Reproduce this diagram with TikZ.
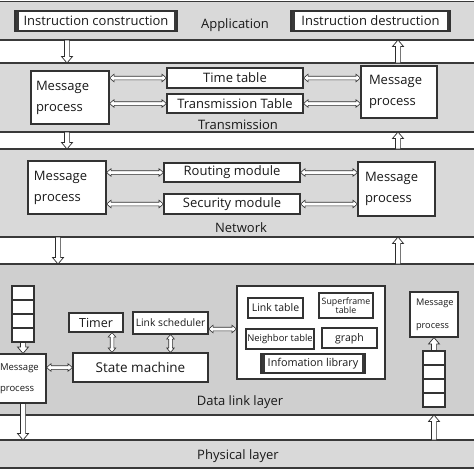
\documentclass[tikz,border=0pt]{standalone}
\usepackage{fontspec}
\setmainfont{Open Sans}
\usetikzlibrary{calc}
\begin{document}
\begin{tikzpicture}[x=1pt,y=-1pt,
  band/.style={fill=gray!30,draw=gray!45!black,line width=1.2pt},
  banddl/.style={fill=gray!38,draw=gray!45!black,line width=1.2pt},
  box/.style={draw=gray!40!black,fill=white,line width=1.1pt,inner sep=0pt,text=black!90,font=\fontsize{13}{15}\selectfont},
  mp/.style={box,align=left,font=\fontsize{13}{21}\selectfont},
  smallmp/.style={box,align=left,font=\fontsize{9.5}{21}\selectfont},
  sm/.style={font=\fontsize{10.5}{12}\selectfont},
  lbl/.style={text=black!90,font=\fontsize{13}{15}\selectfont},
  sidebars/.style={path picture={
    \fill[gray!45!black] (path picture bounding box.north west) rectangle ([xshift=3.5pt]path picture bounding box.south west);
    \fill[gray!45!black] (path picture bounding box.north east) rectangle ([xshift=-3.5pt]path picture bounding box.south east);}},
  barrow/.style n args={3}{to path={
    let \p1=(\tikztostart), \p2=(\tikztotarget), \p3=($(\p2)!#3!(\p1)$) in
    ($(\p1)!#1!90:(\p2)$) -- ($(\p3)!#1!90:(\p2)$) -- ($(\p3)!#2!90:(\p2)$) -- (\p2)
    -- ($(\p3)!#2!-90:(\p2)$) -- ($(\p3)!#1!-90:(\p2)$) -- ($(\p1)!#1!-90:(\p2)$) -- cycle}},
  darrow/.style n args={3}{to path={
    let \p1=(\tikztostart), \p2=(\tikztotarget), \p3=($(\p2)!#3!(\p1)$), \p4=($(\p1)!#3!(\p2)$) in
    (\p1) -- ($(\p4)!#2!90:(\p2)$) -- ($(\p4)!#1!90:(\p2)$) -- ($(\p3)!#1!90:(\p2)$) -- ($(\p3)!#2!90:(\p2)$) -- (\p2)
    -- ($(\p3)!#2!-90:(\p2)$) -- ($(\p3)!#1!-90:(\p2)$) -- ($(\p4)!#1!-90:(\p2)$) -- ($(\p4)!#2!-90:(\p2)$) -- cycle}},
  bigarrow/.style={draw=gray!35!black,fill=white,line width=0.7pt,line join=miter,barrow={2.6pt}{5.5pt}{6.5pt}},
  dblarrow/.style={draw=gray!35!black,fill=white,line width=0.6pt,line join=miter,darrow={1.8pt}{3.8pt}{4.5pt}},
]
\useasboundingbox (0,0) rectangle (474,474);
\fill[white] (0,0) rectangle (474,474);

% layer bands
\path[band] (-3,1.5) rectangle (477,40);
\path[band] (-3,63) rectangle (477,132);
\path[band] (-3,149) rectangle (477,237);
\path[banddl] (-3,264) rectangle (477,415);
\path[band] (-3,440) rectangle (477,468);

% coordinates on band edges
\coordinate (a1) at (67,40);  \coordinate (a2) at (67,63);
\coordinate (a3) at (398,63); \coordinate (a4) at (398,40);
\coordinate (t1) at (67,132); \coordinate (t2) at (67,149);
\coordinate (t3) at (398,149); \coordinate (t4) at (398,132);
\coordinate (n1) at (58,237); \coordinate (n2) at (58,264);
\coordinate (n3) at (398,264); \coordinate (n4) at (398,237);
\coordinate (p2) at (23,440);
\coordinate (p3) at (434,440); \coordinate (p4) at (434,415);

% Application
\node[box,sidebars,minimum width=162pt,minimum height=20pt] (ic) at (96,21) {Instruction construction};
\node[box,sidebars,minimum width=159pt,minimum height=20pt] (idn) at (370.5,21) {Instruction destruction};
\node[lbl] (applbl) at (235,25) {Application};

% Transmission
\node[mp,minimum width=78pt,minimum height=53pt,text width=68pt] (tmpL) at (70,97.5) {Message\\process};
\node[box,minimum width=136pt,minimum height=20pt] (tt) at (235,78) {Time table};
\node[box,minimum width=136pt,minimum height=19pt] (trt) at (235,103.5) {Transmission Table};
\node[mp,minimum width=76pt,minimum height=52pt,text width=60pt] (tmpR) at (399,92) {Message\\process};
\node[lbl] (trlbl) at (238,125) {Transmission};

% Network
\node[mp,minimum width=78pt,minimum height=53pt,text width=66pt] (nmpL) at (67,187.5) {Message\\process};
\node[box,minimum width=136pt,minimum height=19pt] (rm) at (232,172.5) {Routing module};
\node[box,minimum width=136pt,minimum height=20pt] (secm) at (232,204) {Security module};
\node[mp,minimum width=77pt,minimum height=54pt,text width=63pt] (nmpR) at (396.5,189) {Message\\process};
\node[lbl] (netlbl) at (241,228) {Network};

% Data link layer
\foreach \i/\yy in {1/293,2/307,3/321,4/335}
  \node[box,minimum width=22pt,minimum height=14pt] (ql\i) at (23,\yy) {};
\foreach \i/\yy in {1/358,2/372,3/386,4/400}
  \node[box,minimum width=22pt,minimum height=14pt] (qr\i) at (434,\yy) {};
\node[smallmp,minimum width=47pt,minimum height=49pt,text width=45pt] (dmpL) at (22.5,378.5) {Message\\process};
\node[box,minimum width=135pt,minimum height=29pt,font=\fontsize{13.5}{15}\selectfont] (smach) at (140.5,367.5) {State machine};
\node[box,minimum width=54pt,minimum height=19pt,font=\fontsize{12.5}{14}\selectfont] (timer) at (96,322.5) {Timer};
\node[box,sm,minimum width=75pt,minimum height=22pt,font=\fontsize{10.3}{12}\selectfont] (ls) at (170.5,323) {Link scheduler};
\node[box,minimum width=148pt,minimum height=93pt] (info) at (311,332.5) {};
\node[box,sm,minimum width=55pt,minimum height=20pt] (lt) at (275.5,308) {Link table};
\node[box,align=center,minimum width=54pt,minimum height=25pt,font=\fontsize{8.8}{9.5}\selectfont] (sft) at (346,305.5) {Superframe\\table};
\node[box,sm,minimum width=68pt,minimum height=20pt,font=\fontsize{9.4}{11}\selectfont] (nt) at (280,339) {Neighbor table};
\node[box,sm,minimum width=55pt,minimum height=20pt,text depth=-1pt] (gr) at (349.5,338) {graph};
\node[box,sm,sidebars,minimum width=104pt,minimum height=19pt,font=\fontsize{10.8}{12}\selectfont] (il) at (313,363.5) {Infomation library};
\node[smallmp,minimum width=48pt,minimum height=45pt,text width=36pt,font=\fontsize{9.2}{23}\selectfont] (dmpR) at (434,314.5) {Message\\process};
\node[lbl] (dllbl) at (240,402) {Data link layer};
\node[lbl] (phylbl) at (238,456) {Physical layer};

% inter-layer arrows
\draw[bigarrow] (a1) to (a2);
\draw[bigarrow] (a3) to (a4);
\draw[bigarrow] (t1) to (t2);
\draw[bigarrow] (t3) to (t4);
\draw[bigarrow] (n1) to (n2);
\draw[bigarrow] (n3) to (n4);
\draw[bigarrow] (ql4.south) to (dmpL.north -| ql4.south);
\draw[bigarrow] (dmpL.south -| ql4.south) to (p2);
\draw[bigarrow] (p3) to (p4);
\draw[bigarrow] (qr1.north) to (dmpR.south);

% transmission links
\draw[dblarrow] (tmpL.east |- tt.west) to (tt.west);
\draw[dblarrow] (tmpL.east |- trt.west) to (trt.west);
\draw[dblarrow] (tt.east) to (tmpR.west |- tt.east);
\draw[dblarrow] (trt.east) to (tmpR.west |- trt.east);
% network links
\draw[dblarrow] (nmpL.east |- rm.west) to (rm.west);
\draw[dblarrow] (nmpL.east |- secm.west) to (secm.west);
\draw[dblarrow] (rm.east) to (nmpR.west |- rm.east);
\draw[dblarrow] (secm.east) to (nmpR.west |- secm.east);
% data link links
\draw[dblarrow] (dmpL.east |- smach.west) to (smach.west);
\draw[dblarrow] ([xshift=16pt]timer.south) to ([xshift=16pt]timer.south |- smach.north);
\draw[dblarrow] (ls.south) to (ls.south |- smach.north);
\draw[dblarrow] ([yshift=-6pt]ls.east) to ([yshift=-6pt]ls.east -| info.west);
\end{tikzpicture}
\end{document}
